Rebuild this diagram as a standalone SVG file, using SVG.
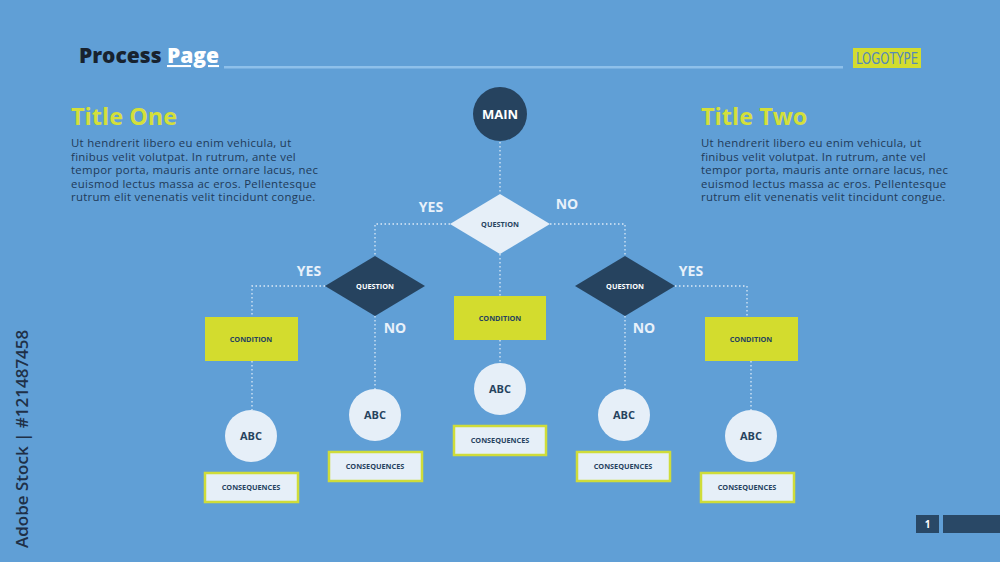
<svg xmlns="http://www.w3.org/2000/svg" width="1000" height="562" viewBox="0 0 1000 562">
<style>
.body{font-family:"Open Sans","Noto Sans",sans-serif;font-size:11.4px;letter-spacing:0.3px;fill:#1f3a58}
.title{font-family:"Open Sans","Noto Sans",sans-serif;font-size:23.5px;font-weight:700;fill:#d4df3a}
.lbl{font-family:"Open Sans","Noto Sans",sans-serif;font-weight:700;text-anchor:middle}
.yn{font-family:"Open Sans","Noto Sans",sans-serif;font-size:14px;font-weight:700;fill:#e8f1fa;text-anchor:middle}
.small{font-size:7.3px}
.dot{stroke:#dbe9f6;stroke-width:1.3;stroke-dasharray:1.5 2.5;fill:none}
.dark{fill:#26435f}
.light{fill:#e6eff8}
.yel{fill:#d3dc2e}
.cons{fill:#e6eff8;stroke:#cfdc3a;stroke-width:2.5}
</style>
<rect width="1000" height="562" fill="#609fd6"/>
<g id="header">
<text x="79" y="63" font-family="Open Sans, Noto Sans, sans-serif" font-size="21" font-weight="800" fill="#18222e">Process <tspan fill="#ffffff" text-decoration="underline">Page</tspan></text>
<rect x="224" y="66" width="619" height="2.5" fill="#8ec0ea"/>
<rect x="853" y="48" width="68" height="20" fill="#d3dc2e"/>
<text x="887" y="64" font-family="DejaVu Sans Condensed, Liberation Sans Narrow, sans-serif" font-size="15" fill="#5588b8" text-anchor="middle" textLength="62" lengthAdjust="spacingAndGlyphs">LOGOTYPE</text>
</g>
<g id="title-one">
<text x="71" y="125" class="title">Title One</text>
<text class="body"><tspan x="71" y="147">Ut hendrerit libero eu enim vehicula, ut</tspan><tspan x="71" y="160.5">finibus velit volutpat. In rutrum, ante vel</tspan><tspan x="71" y="174">tempor porta, mauris ante ornare lacus, nec</tspan><tspan x="71" y="187.5">euismod lectus massa ac eros. Pellentesque</tspan><tspan x="71" y="201">rutrum elit venenatis velit tincidunt congue.</tspan></text>
</g>
<g id="title-two">
<text x="701" y="125" class="title">Title Two</text>
<text class="body"><tspan x="701" y="147">Ut hendrerit libero eu enim vehicula, ut</tspan><tspan x="701" y="160.5">finibus velit volutpat. In rutrum, ante vel</tspan><tspan x="701" y="174">tempor porta, mauris ante ornare lacus, nec</tspan><tspan x="701" y="187.5">euismod lectus massa ac eros. Pellentesque</tspan><tspan x="701" y="201">rutrum elit venenatis velit tincidunt congue.</tspan></text>
</g>
<g id="connectors">
<path class="dot" d="M500 142 V194"/>
<path class="dot" d="M450 224 H375 V256"/>
<path class="dot" d="M550 224 H625 V256"/>
<path class="dot" d="M500 254 V296"/>
<path class="dot" d="M500 340 V362"/>
<path class="dot" d="M325 286 H252 V317"/>
<path class="dot" d="M252 361 V410"/>
<path class="dot" d="M375 316 V389"/>
<path class="dot" d="M675 286 H747 V317"/>
<path class="dot" d="M751 361 V410"/>
<path class="dot" d="M625 316 V389"/>
<text x="431" y="212" class="yn">YES</text>
<text x="567" y="209" class="yn">NO</text>
<text x="309" y="276" class="yn">YES</text>
<text x="395" y="333" class="yn">NO</text>
<text x="691" y="276" class="yn">YES</text>
<text x="644" y="333" class="yn">NO</text>
</g>
<g id="main">
<circle cx="500" cy="114" r="27" class="dark"/>
<text x="500" y="119" class="lbl" font-size="13" fill="#ffffff">MAIN</text>
</g>
<g id="question-top">
<polygon points="450,224 500,194 550,224 500,254" class="light"/>
<text x="500" y="227" class="lbl small" fill="#26435f">QUESTION</text>
</g>
<g id="question-left">
<polygon points="325,286 375,256 425,286 375,316" class="dark"/>
<text x="375" y="289" class="lbl small" fill="#ffffff">QUESTION</text>
</g>
<g id="question-right">
<polygon points="575,286 625,256 675,286 625,316" class="dark"/>
<text x="625" y="289" class="lbl small" fill="#ffffff">QUESTION</text>
</g>
<g id="condition-middle">
<rect x="454" y="296" width="92" height="44" class="yel"/>
<text x="500" y="321" class="lbl small" fill="#26435f">CONDITION</text>
</g>
<g id="condition-left">
<rect x="205" y="317" width="93" height="44" class="yel"/>
<text x="251" y="342" class="lbl small" fill="#26435f">CONDITION</text>
</g>
<g id="condition-right">
<rect x="705" y="317" width="93" height="44" class="yel"/>
<text x="751" y="342" class="lbl small" fill="#26435f">CONDITION</text>
</g>
<g id="abc-1">
<circle cx="251" cy="436" r="26" class="light"/>
<text x="251" y="440" class="lbl" font-size="11" fill="#26435f">ABC</text>
<rect x="205" y="473" width="93" height="29" class="cons"/>
<text x="251" y="490" class="lbl small" fill="#26435f">CONSEQUENCES</text>
</g>
<g id="abc-2">
<circle cx="375" cy="415" r="26" class="light"/>
<text x="375" y="419" class="lbl" font-size="11" fill="#26435f">ABC</text>
<rect x="329" y="452" width="93" height="29" class="cons"/>
<text x="375" y="469" class="lbl small" fill="#26435f">CONSEQUENCES</text>
</g>
<g id="abc-3">
<circle cx="500" cy="389" r="26" class="light"/>
<text x="500" y="393" class="lbl" font-size="11" fill="#26435f">ABC</text>
<rect x="454" y="426" width="92" height="29" class="cons"/>
<text x="500" y="443" class="lbl small" fill="#26435f">CONSEQUENCES</text>
</g>
<g id="abc-4">
<circle cx="624" cy="415" r="26" class="light"/>
<text x="624" y="419" class="lbl" font-size="11" fill="#26435f">ABC</text>
<rect x="577" y="452" width="93" height="29" class="cons"/>
<text x="623" y="469" class="lbl small" fill="#26435f">CONSEQUENCES</text>
</g>
<g id="abc-5">
<circle cx="751" cy="436" r="26" class="light"/>
<text x="751" y="440" class="lbl" font-size="11" fill="#26435f">ABC</text>
<rect x="701" y="473" width="93" height="29" class="cons"/>
<text x="747" y="490" class="lbl small" fill="#26435f">CONSEQUENCES</text>
</g>
<g id="footer">
<rect x="916" y="515" width="23" height="18" fill="#294866"/>
<text x="927.5" y="528" class="lbl" font-size="10" fill="#ffffff">1</text>
<rect x="943" y="515" width="57" height="18" fill="#294866"/>
</g>
<g id="watermark">
<text transform="translate(28,548) rotate(-90)" font-family="Open Sans, Noto Sans, sans-serif" font-size="17" font-weight="600" fill="#1f3047">Adobe Stock | #121487458</text>
</g>
</svg>
